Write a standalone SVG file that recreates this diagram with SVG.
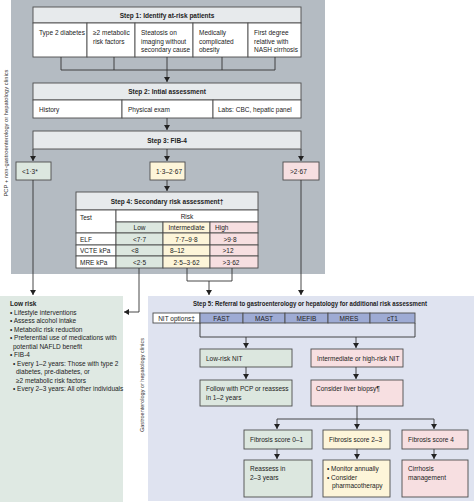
<svg xmlns="http://www.w3.org/2000/svg" width="474" height="502" viewBox="0 0 474 502">
<defs>
<marker id="ah" markerUnits="userSpaceOnUse" markerWidth="6" markerHeight="6" refX="5" refY="3" orient="auto">
<path d="M0,0 L5,3 L0,6 Z" fill="#222"/>
</marker>
<style>
text{font-family:"Liberation Sans Narrow","Liberation Sans",Arial,sans-serif;font-size:6.5px;fill:#222}
.h{font-weight:bold}
.c{text-anchor:middle}
.b{stroke:#4d4d4d;stroke-width:0.9}
.hd{fill:#e7eaec}
.w{fill:#fff}
.g{fill:#dce7df}
.y{fill:#fdf5d9}
.p{fill:#f7dfe1}
.bl{fill:#9eabd4}
.ln{fill:none;stroke:#333;stroke-width:0.9}
.rl{font-size:6px;fill:#333}
</style>
</defs>
<rect x="11" y="0" width="314" height="274" fill="#b4bbc2"/>
<rect x="148" y="296" width="326" height="205" fill="#dfe3f0"/>
<text class="rl c" transform="translate(8,133) rotate(-90)" textLength="127" lengthAdjust="spacingAndGlyphs">PCP + non-gastroenterology or hepatology clinics</text>
<text class="rl c" transform="translate(144,385) rotate(-90)" textLength="94" lengthAdjust="spacingAndGlyphs">Gastroenterology or hepatology clinics</text>

<g id="step1">
<rect class="b hd" x="33" y="7" width="268" height="16"/>
<text class="h c" x="167" y="17.5">Step 1: Identify at-risk patients</text>
<rect class="b w" x="33" y="23" width="54" height="34"/>
<rect class="b w" x="87" y="23" width="48" height="34"/>
<rect class="b w" x="135" y="23" width="58" height="34"/>
<rect class="b w" x="193" y="23" width="55" height="34"/>
<rect class="b w" x="248" y="23" width="53" height="34"/>
<text x="39" y="35">Type 2 diabetes</text>
<text x="93" y="35">≥2 metabolic</text><text x="93" y="43.5">risk factors</text>
<text x="141" y="35">Steatosis on</text><text x="141" y="43.5">imaging without</text><text x="141" y="52">secondary cause</text>
<text x="199" y="35">Medically</text><text x="199" y="43.5">complicated</text><text x="199" y="52">obesity</text>
<text x="254" y="35">First degree</text><text x="254" y="43.5">relative with</text><text x="254" y="52">NASH cirrhosis</text>
</g>

<g id="step2">
<rect class="b hd" x="33" y="83" width="268" height="17"/>
<text class="h c" x="167" y="94">Step 2: Intial assessment</text>
<rect class="b w" x="33" y="100" width="89" height="18"/>
<rect class="b w" x="122" y="100" width="91" height="18"/>
<rect class="b w" x="213" y="100" width="88" height="18"/>
<text x="39" y="111.5">History</text>
<text x="128" y="111.5">Physical exam</text>
<text x="218" y="111.5">Labs: CBC, hepatic panel</text>
</g>

<g id="step3">
<rect class="b hd" x="33" y="131" width="268" height="18"/>
<text class="h c" x="167" y="142.5">Step 3: FIB-4</text>
</g>

<g id="fib-low"><rect class="b g" x="16" y="162" width="35" height="18"/><text x="22" y="173.5">&lt;1·3*</text></g>
<g id="fib-mid"><rect class="b y" x="150" y="162" width="35" height="18"/><text x="156" y="173.5">1·3–2·67</text></g>
<g id="fib-high"><rect class="b p" x="283" y="162" width="36" height="18"/><text x="290" y="173.5">&gt;2·67</text></g>

<g id="step4">
<rect class="b hd" x="76" y="192" width="182" height="18"/>
<text class="h c" x="167" y="203.5">Step 4: Secondary risk assessment†</text>
<rect class="b w" x="76" y="210" width="40" height="23"/>
<rect class="b w" x="116" y="210" width="142" height="12"/>
<rect class="b g" x="116" y="222" width="47" height="11"/>
<rect class="b y" x="163" y="222" width="47" height="11"/>
<rect class="b p" x="210" y="222" width="48" height="11"/>
<rect class="b w" x="76" y="233" width="40" height="12"/>
<rect class="b g" x="116" y="233" width="47" height="12"/>
<rect class="b y" x="163" y="233" width="47" height="12"/>
<rect class="b p" x="210" y="233" width="48" height="12"/>
<rect class="b w" x="76" y="245" width="40" height="11"/>
<rect class="b g" x="116" y="245" width="47" height="11"/>
<rect class="b y" x="163" y="245" width="47" height="11"/>
<rect class="b p" x="210" y="245" width="48" height="11"/>
<rect class="b w" x="76" y="256" width="40" height="12"/>
<rect class="b g" x="116" y="256" width="47" height="12"/>
<rect class="b y" x="163" y="256" width="47" height="12"/>
<rect class="b p" x="210" y="256" width="48" height="12"/>
<text x="80" y="219.5">Test</text>
<text class="c" x="187" y="218.5">Risk</text>
<text class="c" x="139.5" y="230">Low</text>
<text class="c" x="186.5" y="230">Intermediate</text>
<text x="215" y="230">High</text>
<text x="80" y="241.5">ELF</text><text class="c" x="139.5" y="241.5">&lt;7·7</text><text class="c" x="186.5" y="241.5">7·7–9·8</text><text class="c" x="230" y="241.5">&gt;9·8</text>
<text x="80" y="253">VCTE kPa</text><text class="c" x="135" y="253">&lt;8</text><text x="170" y="253">8–12</text><text class="c" x="228" y="253">&gt;12</text>
<text x="80" y="264.5">MRE kPa</text><text class="c" x="139.5" y="264.5">&lt;2·5</text><text class="c" x="186.5" y="264.5">2·5–3·62</text><text class="c" x="231" y="264.5">&gt;3·62</text>
</g>

<g id="low-risk">
<rect x="0" y="296" width="123" height="206" fill="#dfe9e3"/>
<text class="h" x="10" y="306">Low risk</text>
<text x="10" y="314.5">• Lifestyle interventions</text>
<text x="10" y="323">• Assess alcohol intake</text>
<text x="10" y="331.5">• Metabolic risk reduction</text>
<text x="10" y="340">• Preferential use of medications with</text>
<text x="13" y="348.5">potential NAFLD benefit</text>
<text x="10" y="357">• FIB-4</text>
<text x="13" y="365.5">• Every 1–2 years: Those with type 2</text>
<text x="16" y="374">diabetes, pre-diabetes, or</text>
<text x="16" y="382.5">≥2 metabolic risk factors</text>
<text x="13" y="391">• Every 2–3 years: All other individuals</text>
</g>

<g id="step5">
<text class="h c" x="310" y="306" textLength="234" lengthAdjust="spacingAndGlyphs">Step 5: Referral to gastroenterology or hepatology for additional risk assessment</text>
<rect class="b w" x="153" y="313" width="47" height="10"/>
<rect class="b bl" x="200" y="313" width="43" height="10"/>
<rect class="b bl" x="243" y="313" width="42" height="10"/>
<rect class="b bl" x="285" y="313" width="43" height="10"/>
<rect class="b bl" x="328" y="313" width="42" height="10"/>
<rect class="b bl" x="370" y="313" width="45" height="10"/>
<text class="c" x="176.5" y="320.5">NIT options‡</text>
<text class="c" x="221.5" y="320.5">FAST</text>
<text class="c" x="264" y="320.5">MAST</text>
<text class="c" x="306.5" y="320.5">MEFIB</text>
<text class="c" x="349" y="320.5">MRES</text>
<text class="c" x="392.5" y="320.5">cT1</text>
</g>

<g id="low-nit"><rect class="b g" x="200" y="349" width="92" height="18"/><text x="206" y="360.5">Low-risk NIT</text></g>
<g id="high-nit"><rect class="b p" x="311" y="349" width="92" height="18"/><text x="317" y="360.5">Intermediate or high-risk NIT</text></g>
<g id="follow"><rect class="b g" x="200" y="380" width="92" height="26"/><text x="206" y="391">Follow with PCP or reassess</text><text x="206" y="399.5">in 1–2 years</text></g>
<g id="biopsy"><rect class="b p" x="311" y="380" width="92" height="26"/><text x="316" y="391">Consider liver biopsy¶</text></g>
<g id="fib01"><rect class="b g" x="244" y="430" width="68" height="19"/><text x="250" y="442">Fibrosis score 0–1</text></g>
<g id="fib23"><rect class="b y" x="323" y="430" width="67" height="19"/><text x="329" y="442">Fibrosis score 2–3</text></g>
<g id="fib4"><rect class="b p" x="402" y="430" width="66" height="19"/><text x="408" y="442">Fibrosis score 4</text></g>
<g id="reassess"><rect class="b g" x="244" y="460" width="68" height="37"/><text x="250" y="471">Reassess in</text><text x="250" y="479.5">2–3 years</text></g>
<g id="monitor"><rect class="b y" x="323" y="460" width="67" height="37"/><text x="327" y="471">• Monitor annually</text><text x="327" y="479.5">• Consider</text><text x="332" y="488">pharmacotherapy</text></g>
<g id="cirrhosis"><rect class="b p" x="402" y="460" width="66" height="37"/><text x="408" y="471">Cirrhosis</text><text x="408" y="479.5">management</text></g>

<g id="connectors">
<path class="ln" d="M61,57V70M114,57V70M222,57V70M275,57V70M61,70H275"/>
<path class="ln" d="M167,57V82" marker-end="url(#ah)"/>
<path class="ln" d="M167,118V130" marker-end="url(#ah)"/>
<path class="ln" d="M33,149V161" marker-end="url(#ah)"/>
<path class="ln" d="M167,149V161" marker-end="url(#ah)"/>
<path class="ln" d="M301,149V161" marker-end="url(#ah)"/>
<path class="ln" d="M167,180V191" marker-end="url(#ah)"/>
<path class="ln" d="M33,180V295" marker-end="url(#ah)"/>
<path class="ln" d="M139,268V312H124" marker-end="url(#ah)"/>
<path class="ln" d="M187,268V281H232V268"/>
<path class="ln" d="M209,281V295" marker-end="url(#ah)"/>
<path class="ln" d="M301,180V295" marker-end="url(#ah)"/>
<path class="ln" d="M200,323V337H415V323"/>
<path class="ln" d="M246,337V348" marker-end="url(#ah)"/>
<path class="ln" d="M356,337V348" marker-end="url(#ah)"/>
<path class="ln" d="M246,367V379" marker-end="url(#ah)"/>
<path class="ln" d="M356,367V379" marker-end="url(#ah)"/>
<path class="ln" d="M357,406V419M277,419H434"/>
<path class="ln" d="M277,419V429" marker-end="url(#ah)"/>
<path class="ln" d="M357,419V429" marker-end="url(#ah)"/>
<path class="ln" d="M434,419V429" marker-end="url(#ah)"/>
<path class="ln" d="M277,449V459" marker-end="url(#ah)"/>
<path class="ln" d="M357,449V459" marker-end="url(#ah)"/>
<path class="ln" d="M434,449V459" marker-end="url(#ah)"/>
</g>
</svg>
